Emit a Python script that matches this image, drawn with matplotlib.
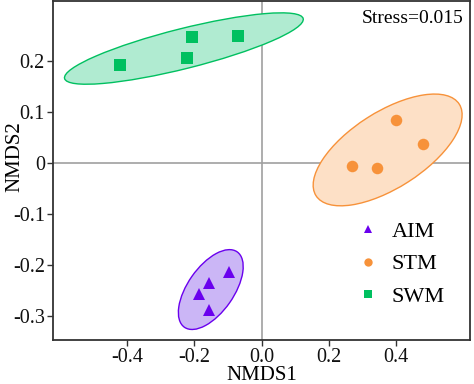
import numpy as np
import matplotlib
matplotlib.use("Agg")
import matplotlib.pyplot as plt
from matplotlib.patches import Ellipse
from matplotlib.transforms import Affine2D
from matplotlib.lines import Line2D

plt.rcParams['font.family'] = ['Liberation Serif', 'DejaVu Serif']

groups = ["AIM", "STM", "SWM"]
colors = ["#6a00ee", "#f7923a", "#00c060"]
fills = ["#cbb6f6", "#fde0c6", "#b0ebd1"]
markers = ["^", "o", "s"]

aim_x = [-0.098, -0.155, -0.187, -0.155]
aim_y = [-0.214, -0.235, -0.256, -0.288]
stm_x = [0.400, 0.480, 0.268, 0.342]
stm_y = [0.084, 0.037, -0.006, -0.010]
swm_x = [-0.422, -0.222, -0.206, -0.071]
swm_y = [0.192, 0.207, 0.248, 0.250]

# ellipse centres (data) and screen-space shape (semi-axes in px, angle deg)
ell_cx = [-0.151, 0.375, -0.231]
ell_cy = [-0.248, 0.026, 0.225]
ell_a = [46, 85, 123]
ell_b = [23, 38, 20]
ell_ang = [55, 32.6, 14.1]

xs = [aim_x, stm_x, swm_x]
ys = [aim_y, stm_y, swm_y]

xlim = (-0.62, 0.62)
ylim = (-0.347, 0.318)

fig = plt.figure(figsize=(4.74, 3.84), dpi=100)
ax = fig.add_axes([0.112, 0.1146, 0.8796, 0.8824])
ax.set_xlim(*xlim)
ax.set_ylim(*ylim)

ax.axhline(0, color="#a0a0a0", lw=1.2, zorder=0)
ax.axvline(0, color="#a0a0a0", lw=1.2, zorder=0)

# px per data unit
W = 0.8796 * 474
H = 0.8824 * 384
sx = W / (xlim[1] - xlim[0])
sy = H / (ylim[1] - ylim[0])

for i in range(3):
    e = Ellipse((0, 0), 2 * ell_a[i], 2 * ell_b[i], angle=ell_ang[i],
                facecolor=fills[i], edgecolor=colors[i], lw=1.0, zorder=1)
    e.set_transform(Affine2D().scale(1 / sx, 1 / sy).translate(ell_cx[i], ell_cy[i]) + ax.transData)
    ax.add_patch(e)
    ax.plot(xs[i], ys[i], linestyle="none", marker=markers[i], color=colors[i],
            markersize=8.3, markeredgewidth=0, zorder=3)

handles = [Line2D([], [], linestyle="none", marker=markers[i], color=colors[i],
                  markersize=6, markeredgewidth=0) for i in range(3)]
ax.legend(handles, groups, loc="upper left", bbox_to_anchor=(0.676, 0.41), frameon=False,
          fontsize=16, handletextpad=0.45, labelspacing=0.55, handlelength=1.2)

ax.text(0.985, 0.975, "Stress=0.015", transform=ax.transAxes, ha="right", va="top", fontsize=14)

ax.set_xticks([-0.4, -0.2, 0.0, 0.2, 0.4])
ax.set_xticklabels(["-0.4", "-0.2", "0.0", "0.2", "0.4"])
ax.set_yticks([-0.3, -0.2, -0.1, 0, 0.1, 0.2])
ax.set_yticklabels(["-0.3", "-0.2", "-0.1", "0", "0.1", "0.2"])
ax.tick_params(direction="out", length=4, width=1, colors="#333333", labelsize=14.5,
               labelcolor="#111111", pad=2)
for s in ax.spines.values():
    s.set_color("#333333")
    s.set_linewidth(1.3)
ax.set_xlabel("NMDS1", fontsize=15, labelpad=-1)
ax.set_ylabel("NMDS2", fontsize=15)
ax.yaxis.set_label_coords(-0.068, 0.54)

fig.savefig("out.png", dpi=100)
